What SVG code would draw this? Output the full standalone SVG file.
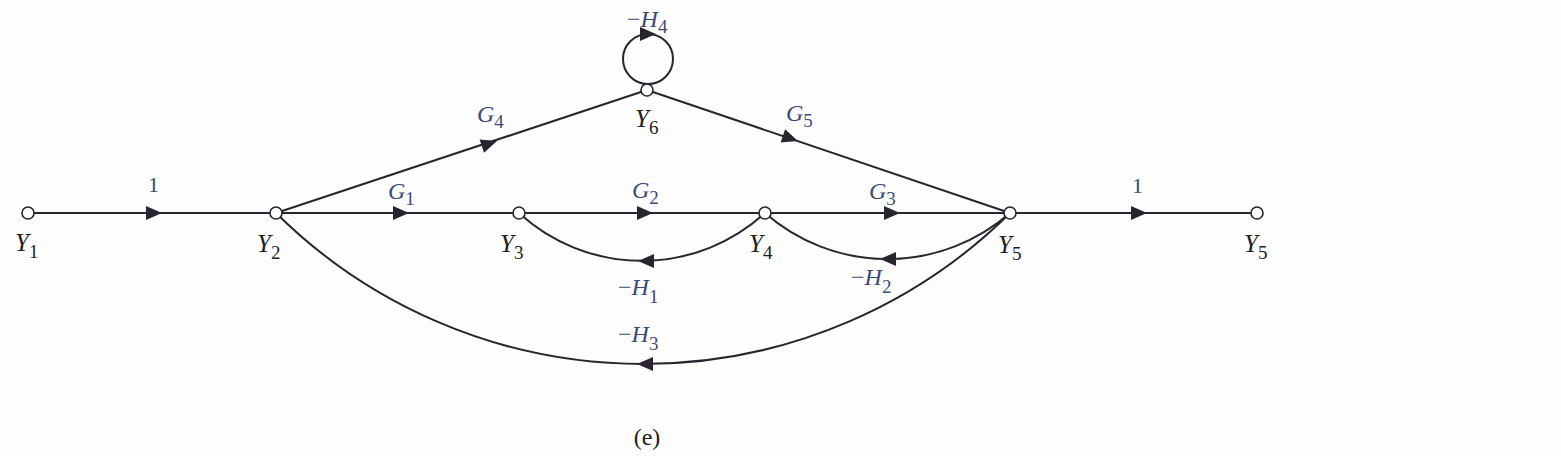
<svg xmlns="http://www.w3.org/2000/svg" xmlns:xlink="http://www.w3.org/1999/xlink" width="1561" height="456" viewBox="0 0 1561 456">
<defs>
<style>
.edge{fill:none;stroke:#2a2430;stroke-width:2}
.node{fill:#ffffff;stroke:#2a2430;stroke-width:1.6}
.ah{fill:#2a2430;stroke:none}
.yl{font-family:"Liberation Serif","Times New Roman",serif;font-size:25px;font-style:italic;fill:#1e1e22}
.gl{font-family:"Liberation Serif","Times New Roman",serif;font-size:24px;font-style:italic;fill:#3c4a7a}
.num{font-family:"Liberation Serif","Times New Roman",serif;font-size:22px;font-style:normal;fill:#3c4a7a}
.sub{font-style:normal;font-size:19px}
.up{font-style:normal}
.cap{font-family:"Liberation Serif","Times New Roman",serif;font-size:24px;fill:#1e1e22}
</style>
<path id="arrow" class="ah" d="M-16,-7 L0,0 L-16,7 Z"/>
</defs>
<rect x="0" y="0" width="1561" height="456" fill="#fdfdfd"/>

<g id="connectors">
  <path class="edge" d="M28,213 L1257,213"/>
  <path class="edge" d="M276,213 L647,90"/>
  <path class="edge" d="M647,90 L1010,213"/>
  <path class="edge" d="M765,213 A182,182 0 0 1 519,213"/>
  <path class="edge" d="M1010,213 A186,186 0 0 1 765,213"/>
  <path class="edge" d="M1010,213 A521.5,521.5 0 0 1 276,213"/>
  <circle class="edge" cx="648" cy="59" r="25"/>
  <use xlink:href="#arrow" href="#arrow" transform="translate(162,213)"/>
  <use xlink:href="#arrow" href="#arrow" transform="translate(409,213)"/>
  <use xlink:href="#arrow" href="#arrow" transform="translate(653,213)"/>
  <use xlink:href="#arrow" href="#arrow" transform="translate(900,213)"/>
  <use xlink:href="#arrow" href="#arrow" transform="translate(1147,213)"/>
  <use xlink:href="#arrow" href="#arrow" transform="translate(497,141) rotate(-18.5)"/>
  <use xlink:href="#arrow" href="#arrow" transform="translate(798,141) rotate(18.8)"/>
  <use xlink:href="#arrow" href="#arrow" transform="translate(638,261) rotate(180)"/>
  <use xlink:href="#arrow" href="#arrow" transform="translate(880,259) rotate(180)"/>
  <use xlink:href="#arrow" href="#arrow" transform="translate(637,364) rotate(180)"/>
  <use xlink:href="#arrow" href="#arrow" transform="translate(656,34)"/>
  <text class="num" x="148" y="192">1</text>
  <text class="num" x="1132" y="193">1</text>
  <text class="gl" x="388" y="199">G<tspan class="sub" dy="6">1</tspan></text>
  <text class="gl" x="632" y="198">G<tspan class="sub" dy="6">2</tspan></text>
  <text class="gl" x="869" y="199">G<tspan class="sub" dy="6">3</tspan></text>
  <text class="gl" x="477" y="122">G<tspan class="sub" dy="6">4</tspan></text>
  <text class="gl" x="786" y="121">G<tspan class="sub" dy="6">5</tspan></text>
  <text class="gl" x="618" y="295"><tspan class="up">−</tspan>H<tspan class="sub" dy="8">1</tspan></text>
  <text class="gl" x="851" y="285"><tspan class="up">−</tspan>H<tspan class="sub" dy="8">2</tspan></text>
  <text class="gl" x="618" y="342"><tspan class="up">−</tspan>H<tspan class="sub" dy="8">3</tspan></text>
  <text class="gl" x="627" y="27"><tspan class="up">−</tspan>H<tspan class="sub" dy="6">4</tspan></text>
</g>

<g id="node-Y1"><circle class="node" cx="28" cy="213" r="6"/><text class="yl" x="15" y="251">Y<tspan class="sub" dy="7">1</tspan></text></g>
<g id="node-Y2"><circle class="node" cx="276" cy="213" r="6"/><text class="yl" x="257" y="252">Y<tspan class="sub" dy="7">2</tspan></text></g>
<g id="node-Y3"><circle class="node" cx="519" cy="213" r="6"/><text class="yl" x="500" y="252">Y<tspan class="sub" dy="7">3</tspan></text></g>
<g id="node-Y4"><circle class="node" cx="765" cy="213" r="6"/><text class="yl" x="749" y="252">Y<tspan class="sub" dy="7">4</tspan></text></g>
<g id="node-Y5"><circle class="node" cx="1010" cy="213" r="6"/><text class="yl" x="998" y="253">Y<tspan class="sub" dy="7">5</tspan></text></g>
<g id="node-Y5-out"><circle class="node" cx="1257" cy="213" r="6"/><text class="yl" x="1244" y="252">Y<tspan class="sub" dy="7">5</tspan></text></g>
<g id="node-Y6"><circle class="node" cx="647" cy="90" r="6"/><text class="yl" x="635" y="127">Y<tspan class="sub" dy="7">6</tspan></text></g>

<text class="cap" x="647" y="445" text-anchor="middle">(e)</text>
</svg>
